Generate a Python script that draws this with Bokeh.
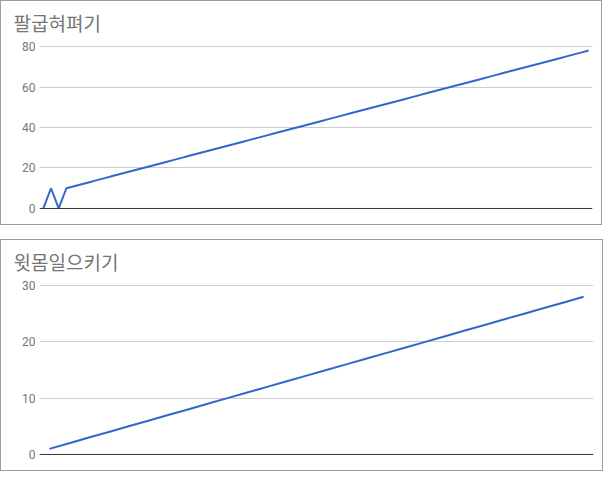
from bokeh.plotting import figure
from bokeh.layouts import column
from bokeh.models import Range1d, Span, FixedTicker
from bokeh.embed import file_html
from bokeh.resources import INLINE

# ---- data ----
title1 = "팔굽혀펴기"
pushups = [0, 10, 0, 10, 11, 12, 13, 14, 15, 16, 17, 18, 19, 20, 21, 22, 23, 24,
           25, 26, 27, 28, 29, 30, 31, 32, 33, 34, 35, 36, 37, 38, 39, 40, 41, 42,
           43, 44, 45, 46, 47, 48, 49, 50, 51, 52, 53, 54, 55, 56, 57, 58, 59, 60,
           61, 62, 63, 64, 65, 66, 67, 68, 69, 70, 71, 72, 73, 74, 75, 76, 77, 78]
ticks1 = [0, 20, 40, 60, 80]

title2 = "윗몸일으키기"
situps = [1, 2, 3, 4, 5, 6, 7, 8, 9, 10, 11, 12, 13, 14, 15, 16, 17, 18, 19, 20,
          21, 22, 23, 24, 25, 26, 27, 28]
ticks2 = [0, 10, 20, 30]

LINE = "#3366cc"
GRID = "#cccccc"
TXT = "#757575"
CJK = "Noto Sans CJK KR"


def make_chart(title, values, ticks, ymax, plot_px, frame_w):
    n = len(values)
    pad_px = 2
    pad = pad_px * ymax / plot_px
    p = figure(output_backend="svg", toolbar_location=None,
               x_range=Range1d(-0.5, n - 0.5),
               y_range=Range1d(-pad, ymax + pad),
               frame_width=frame_w, frame_height=plot_px + 2 * pad_px,
               min_border_left=38, min_border_right=11, min_border_bottom=16,
               min_border_top=43)
    p.title.text = title
    p.title.text_font = CJK
    p.title.text_font_size = "19px"
    p.title.text_font_style = "normal"
    p.title.text_color = TXT
    p.title.align = "left"
    p.title.vertical_align = "top"
    p.title.offset = -26
    p.title.standoff = 14
    p.xaxis.visible = False
    p.xgrid.visible = False
    p.yaxis.ticker = FixedTicker(ticks=ticks)
    p.yaxis.axis_line_color = None
    p.yaxis.major_tick_line_color = None
    p.yaxis.minor_tick_line_color = None
    p.yaxis.major_tick_out = 0
    p.yaxis.major_tick_in = 0
    p.yaxis.minor_tick_out = 0
    p.yaxis.major_label_text_font = "Roboto"
    p.yaxis.major_label_text_font_size = "12px"
    p.yaxis.major_label_text_color = TXT
    p.yaxis.major_label_standoff = 4
    p.ygrid.ticker = FixedTicker(ticks=[t for t in ticks if t != 0])
    p.ygrid.grid_line_color = GRID
    p.outline_line_color = None
    p.add_layout(Span(location=0, dimension="width", line_color="#333333", line_width=1))
    p.line(list(range(n)), values, line_color=LINE, line_width=2)
    p.styles = {"border": "1px solid #9e9e9e"}
    return p


p1 = make_chart(title1, pushups, ticks1, 80, 160, 551)
p2 = make_chart(title2, situps, ticks2, 30, 167, 552)

layout = column(p1, p2, spacing=14)

open("out.html", "w").write(file_html(layout, INLINE))
